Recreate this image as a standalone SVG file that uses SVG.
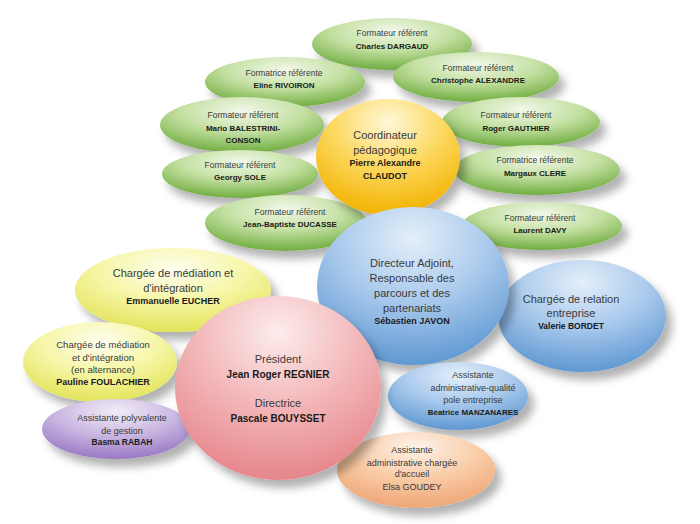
<svg xmlns="http://www.w3.org/2000/svg" width="700" height="524" viewBox="0 0 700 524">
<defs>
<filter id="sh" x="-30%" y="-30%" width="170%" height="180%">
<feDropShadow dx="6" dy="8" stdDeviation="4" flood-color="#000" flood-opacity="0.3"/>
</filter>
<radialGradient id="gGreen" cx="50%" cy="25%" r="75%">
<stop offset="0" stop-color="#f2f8ea"/><stop offset="0.5" stop-color="#c4e0a2"/><stop offset="1" stop-color="#70ad40"/>
</radialGradient>
<radialGradient id="gYellow" cx="50%" cy="20%" r="80%">
<stop offset="0" stop-color="#fff8d8"/><stop offset="0.5" stop-color="#fcd75c"/><stop offset="1" stop-color="#f2b200"/>
</radialGradient>
<radialGradient id="gBlue" cx="50%" cy="20%" r="80%">
<stop offset="0" stop-color="#e4eff9"/><stop offset="0.5" stop-color="#a9c9ec"/><stop offset="1" stop-color="#5f98d2"/>
</radialGradient>
<radialGradient id="gPink" cx="50%" cy="20%" r="80%">
<stop offset="0" stop-color="#fcecec"/><stop offset="0.5" stop-color="#f3b7b9"/><stop offset="1" stop-color="#e6868b"/>
</radialGradient>
<radialGradient id="gLY" cx="50%" cy="25%" r="75%">
<stop offset="0" stop-color="#fefef0"/><stop offset="0.5" stop-color="#f6f6a8"/><stop offset="1" stop-color="#e3e35a"/>
</radialGradient>
<radialGradient id="gPurple" cx="50%" cy="20%" r="80%">
<stop offset="0" stop-color="#f1ecf6"/><stop offset="0.5" stop-color="#cbb8e2"/><stop offset="1" stop-color="#9878c4"/>
</radialGradient>
<radialGradient id="gOrange" cx="50%" cy="20%" r="80%">
<stop offset="0" stop-color="#fef2e8"/><stop offset="0.5" stop-color="#f9cda8"/><stop offset="1" stop-color="#efa675"/>
</radialGradient>
<style>
ellipse{filter:url(#sh)}
.gr{fill:url(#gGreen)}
text{font-family:"Liberation Sans",Arial,sans-serif;text-anchor:middle;fill:#3a3a3a}
.s{font-size:8.5px}
.sb{font-size:8px;font-weight:bold;fill:#1a1a1a}
.m{font-size:11px}
.m9{font-size:9.5px}
.n9{font-size:9px}
.b9{font-size:9px;font-weight:bold;fill:#1a1a1a}
.b10{font-size:10px;font-weight:bold;fill:#1a1a1a}
.b8{font-size:8.5px;font-weight:bold;fill:#1a1a1a}
</style>
</defs>
<rect width="700" height="524" fill="#fff"/>
<g id="connectors"/>
<g id="n-dargaud"><ellipse class="gr" cx="392" cy="44" rx="80" ry="26"/>
<text class="s" x="392" y="36">Formateur référent</text><text class="sb" x="392" y="49">Charles DARGAUD</text></g>
<g id="n-rivoiron"><ellipse class="gr" cx="285" cy="82" rx="80" ry="25"/>
<text class="s" x="284" y="76">Formatrice référente</text><text class="sb" x="284" y="88">Eline RIVOIRON</text></g>
<g id="n-alexandre"><ellipse class="gr" cx="476" cy="77" rx="83" ry="25"/>
<text class="s" x="478" y="71">Formateur référent</text><text class="sb" x="478" y="83">Christophe ALEXANDRE</text></g>
<g id="n-balestrini"><ellipse class="gr" cx="242" cy="125" rx="82" ry="28"/>
<text class="s" x="243" y="118">Formateur référent</text><text class="sb" x="243" y="131">Mario BALESTRINI-</text><text class="sb" x="243" y="143">CONSON</text></g>
<g id="n-gauthier"><ellipse class="gr" cx="521" cy="122" rx="79" ry="25"/>
<text class="s" x="516" y="118">Formateur référent</text><text class="sb" x="516" y="131">Roger GAUTHIER</text></g>
<g id="n-sole"><ellipse class="gr" cx="240" cy="174" rx="78" ry="24"/>
<text class="s" x="240" y="168">Formateur référent</text><text class="sb" x="240" y="180">Georgy SOLE</text></g>
<g id="n-clere"><ellipse class="gr" cx="537" cy="170" rx="83" ry="25"/>
<text class="s" x="535" y="163">Formatrice référente</text><text class="sb" x="535" y="176">Margaux CLERE</text></g>
<g id="n-ducasse"><ellipse class="gr" cx="286" cy="223" rx="81" ry="28"/>
<text class="s" x="290" y="215">Formateur référent</text><text class="sb" x="290" y="227">Jean-Baptiste DUCASSE</text></g>
<g id="n-davy"><ellipse class="gr" cx="542" cy="226" rx="80" ry="24"/>
<text class="s" x="540" y="221">Formateur référent</text><text class="sb" x="540" y="233">Laurent DAVY</text></g>
<g id="n-claudot"><ellipse cx="388" cy="157" rx="72" ry="58" fill="url(#gYellow)"/>
<text class="m" x="385" y="139">Coordinateur</text><text class="m" x="385" y="154">pédagogique</text><text class="b9" x="385" y="166">Pierre Alexandre</text><text class="b9" x="385" y="179">CLAUDOT</text></g>
<g id="n-bordet"><ellipse cx="582" cy="316" rx="84" ry="56" fill="url(#gBlue)"/>
<text class="m" x="571" y="303">Chargée de relation</text><text class="m" x="571" y="317">entreprise</text><text class="b8" x="571" y="329">Valerie BORDET</text></g>
<g id="n-javon"><ellipse cx="413" cy="286" rx="96" ry="79" fill="url(#gBlue)"/>
<text class="m" x="412" y="267">Directeur Adjoint,</text><text class="m" x="412" y="282">Responsable des</text><text class="m" x="412" y="297">parcours et des</text><text class="m" x="412" y="312">partenariats</text><text class="b9" x="412" y="324">Sébastien JAVON</text></g>
<g id="n-eucher"><ellipse cx="173" cy="290" rx="98" ry="42" fill="url(#gLY)"/>
<text class="m" x="173" y="277">Chargée de médiation et</text><text class="m" x="173" y="292">d'intégration</text><text class="b9" x="173" y="304">Emmanuelle EUCHER</text></g>
<g id="n-foulachier"><ellipse cx="100" cy="362" rx="77" ry="40" fill="url(#gLY)"/>
<text class="m9" x="103" y="348">Chargée de médiation</text><text class="m9" x="103" y="361">et d'intégration</text><text class="m9" x="103" y="373">(en alternance)</text><text class="b9" x="103" y="385">Pauline FOULACHIER</text></g>
<g id="n-rabah"><ellipse cx="116" cy="429" rx="74" ry="30" fill="url(#gPurple)"/>
<text class="n9" x="122" y="421">Assistante polyvalente</text><text class="n9" x="122" y="434">de gestion</text><text class="b8" x="122" y="445">Basma RABAH</text></g>
<g id="n-manzanares"><ellipse cx="458" cy="396" rx="70" ry="34" fill="url(#gBlue)"/>
<text class="n9" x="473" y="378">Assistante</text><text class="n9" x="473" y="391">administrative-qualité</text><text class="n9" x="473" y="403">pole entreprise</text><text class="sb" x="473" y="415">Béatrice MANZANARES</text></g>
<g id="n-goudey"><ellipse cx="416" cy="470" rx="79" ry="38" fill="url(#gOrange)"/>
<text class="n9" x="412" y="453">Assistante</text><text class="n9" x="412" y="466">administrative chargée</text><text class="n9" x="412" y="477">d'accueil</text><text class="n9" x="412" y="490">Elsa GOUDEY</text></g>
<g id="n-direction"><ellipse cx="278" cy="388" rx="103" ry="92" fill="url(#gPink)"/>
<text class="m" x="278" y="363">Président</text><text class="b10" x="278" y="378">Jean Roger REGNIER</text><text class="m" x="278" y="407">Directrice</text><text class="b10" x="278" y="422">Pascale BOUYSSET</text></g>
</svg>
